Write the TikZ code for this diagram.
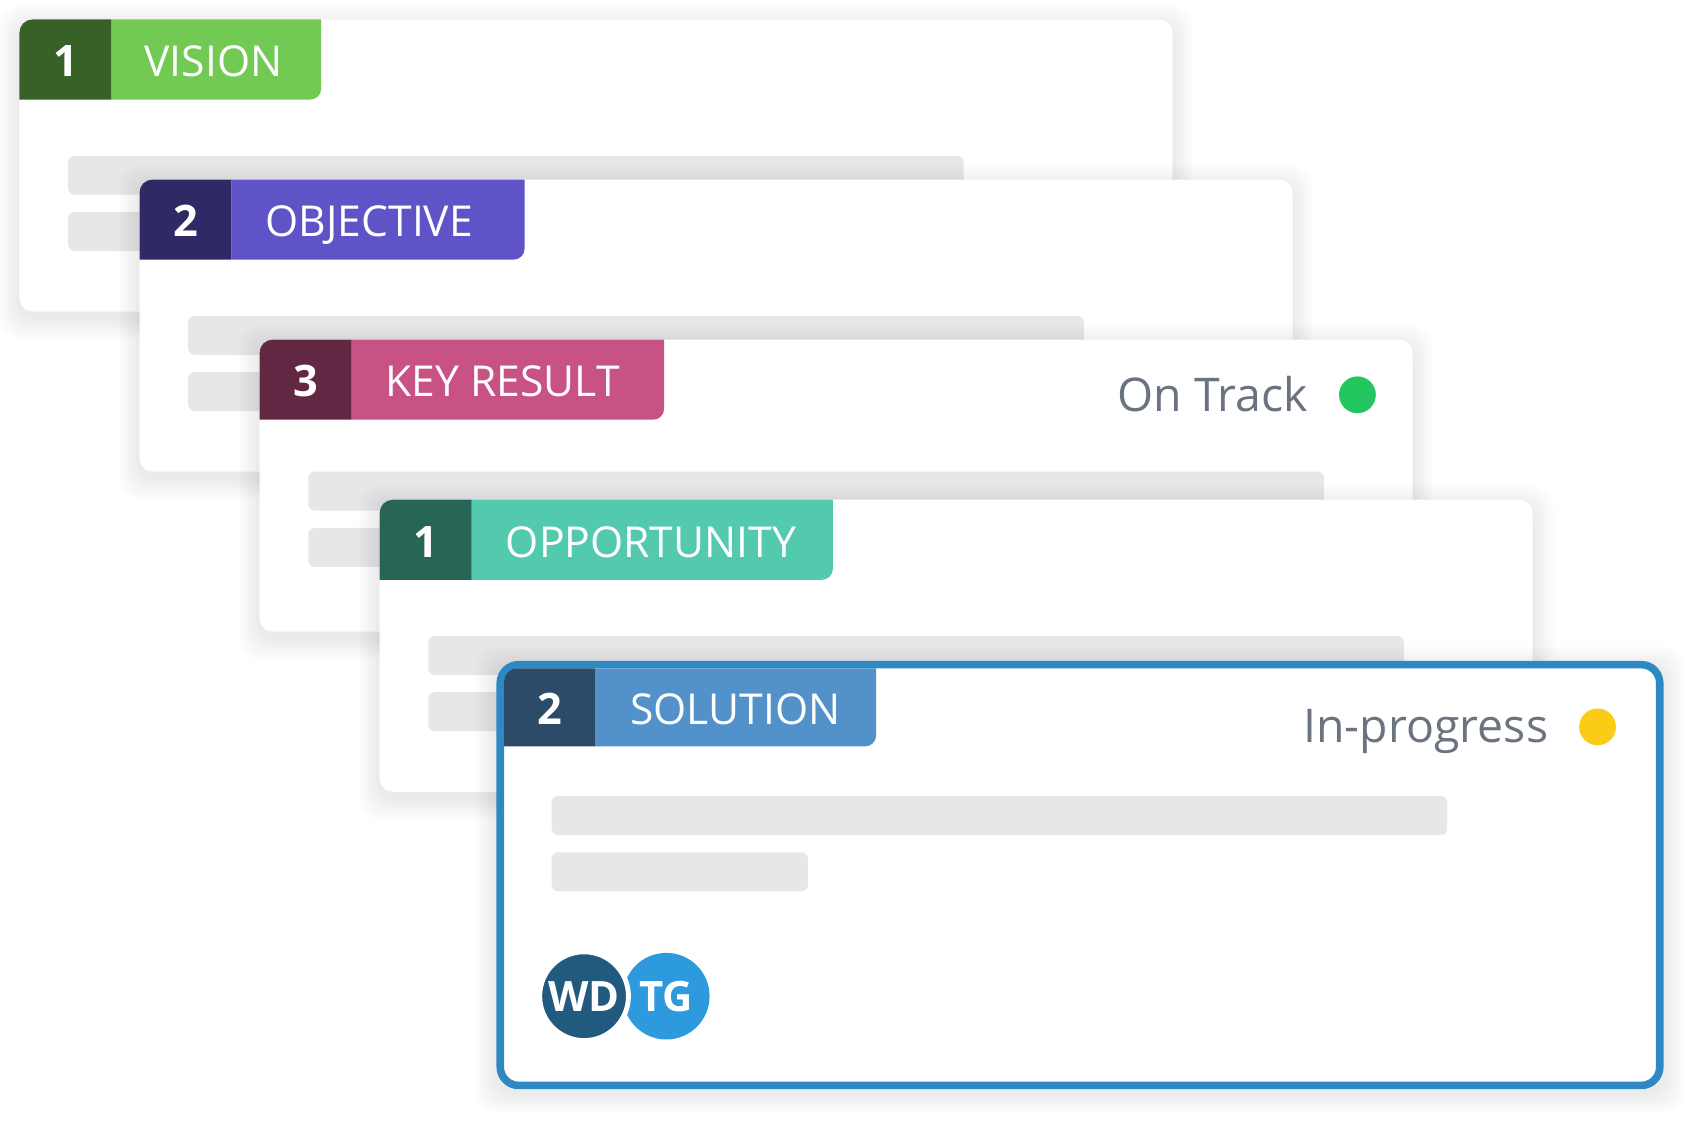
\documentclass[tikz,border=0pt]{standalone}
\usepackage{fontspec}
\setmainfont{Open Sans}

\definecolor{visiondark}{HTML}{386128}
\definecolor{visionlight}{HTML}{72C954}
\definecolor{objdark}{HTML}{2F2965}
\definecolor{objlight}{HTML}{5E54C7}
\definecolor{krdark}{HTML}{622843}
\definecolor{krlight}{HTML}{C75283}
\definecolor{oppdark}{HTML}{276657}
\definecolor{opplight}{HTML}{53C9AE}
\definecolor{soldark}{HTML}{2B4B68}
\definecolor{sollight}{HTML}{5291C9}
\definecolor{solborder}{HTML}{2D88C4}
\definecolor{barfill}{HTML}{E7E7EA}
\definecolor{statusgray}{HTML}{6B7280}
\definecolor{ontrack}{HTML}{22C55E}
\definecolor{inprogress}{HTML}{FACC15}
\definecolor{wdblue}{HTML}{215A7E}
\definecolor{tgblue}{HTML}{2D9ADD}

\tikzset{
  card/.style={fill=white, rounded corners=0.12cm},
  cardshade/.style={fill=black, opacity=0.006, rounded corners=0.2cm},
  bar/.style={fill=barfill, rounded corners=0.06cm},
  tagnum/.style={font=\bfseries\fontsize{11.4}{14}\selectfont, text=white, anchor=base, inner sep=0pt},
  taglabel/.style={font=\fontsize{11.2}{14}\selectfont, text=white, anchor=base west, inner sep=0pt},
  status/.style={font=\fontsize{12.2}{15}\selectfont, text=statusgray, anchor=base east, inner sep=0pt},
  avatar/.style={circle, inner sep=0pt, text=white, font=\bfseries\fontsize{11}{13}\selectfont}
}

\begin{document}
\begin{tikzpicture}[x=0.01cm,y=-0.01cm]
\useasboundingbox[fill=white] (0,0) rectangle (1568,1036);

% card 1: vision
\foreach \s in {2,4,...,20} \fill[cardshade] (18-\s,24-\s) rectangle (1084+\s,294+\s);
\fill[card] (18,18) rectangle (1084,288);
\fill[bar] (63,144) rectangle (891,180);
\fill[bar] (63,196) rectangle (300,232);
\fill[visionlight] (103,18) -- (297,18) -- (297,82) arc[start angle=0, end angle=90, radius=10] -- (103,92) -- cycle;
\fill[visiondark] (103,18) -- (30,18) arc[start angle=-90, end angle=-180, radius=12] -- (18,92) -- (103,92) -- cycle;
\node[tagnum] (num1) at (60.5,71) {1};
\node[taglabel] (vision) at (133,71) {VISION};

% card 2: objective
\foreach \s in {2,4,...,20} \fill[cardshade] (129-\s,172-\s) rectangle (1195+\s,442+\s);
\fill[card] (129,166) rectangle (1195,436);
\fill[bar] (174,292) rectangle (1002,328);
\fill[bar] (174,344) rectangle (411,380);
\fill[objlight] (214,166) -- (485,166) -- (485,230) arc[start angle=0, end angle=90, radius=10] -- (214,240) -- cycle;
\fill[objdark] (214,166) -- (141,166) arc[start angle=-90, end angle=-180, radius=12] -- (129,240) -- (214,240) -- cycle;
\node[tagnum] (num2) at (171.5,219) {2};
\node[taglabel] (objective) at (245,219) {OBJECTIVE};

% card 3: key result
\foreach \s in {2,4,...,20} \fill[cardshade] (240-\s,320-\s) rectangle (1306+\s,590+\s);
\fill[card] (240,314) rectangle (1306,584);
\fill[bar] (285,436) rectangle (1224,472);
\fill[bar] (285,488) rectangle (522,524);
\fill[krlight] (325,314) -- (614,314) -- (614,378) arc[start angle=0, end angle=90, radius=10] -- (325,388) -- cycle;
\fill[krdark] (325,314) -- (252,314) arc[start angle=-90, end angle=-180, radius=12] -- (240,388) -- (325,388) -- cycle;
\node[tagnum] (num3) at (282.5,367) {3};
\node[taglabel] (keyresult) at (356,367) {KEY RESULT};
\node[status] (ontracktext) at (1210,380) {On Track};
\fill[ontrack] (1255,365) circle[radius=17];

% card 4: opportunity
\foreach \s in {2,4,...,20} \fill[cardshade] (351-\s,468-\s) rectangle (1417+\s,738+\s);
\fill[card] (351,462) rectangle (1417,732);
\fill[bar] (396,588) rectangle (1298,624);
\fill[bar] (396,640) rectangle (633,676);
\fill[opplight] (436,462) -- (770,462) -- (770,526) arc[start angle=0, end angle=90, radius=10] -- (436,536) -- cycle;
\fill[oppdark] (436,462) -- (363,462) arc[start angle=-90, end angle=-180, radius=12] -- (351,536) -- (436,536) -- cycle;
\node[tagnum] (num4) at (393.5,515) {1};
\node[taglabel] (opportunity) at (467,515) {OPPORTUNITY};

% card 5: solution (selected)
\foreach \s in {2,4,...,20} \fill[cardshade] (459-\s,617-\s) rectangle (1538+\s,1010+\s);
\draw[solborder, fill=white, line width=0.07cm, rounded corners=0.17cm] (462.5,614.5) rectangle (1534.5,1003.5);
\fill[bar] (510,736) rectangle (1338,772);
\fill[bar] (510,788) rectangle (747,824);
\fill[sollight] (550,618) -- (810,618) -- (810,680) arc[start angle=0, end angle=90, radius=10] -- (550,690) -- cycle;
\fill[soldark] (550,618) -- (478,618) arc[start angle=-90, end angle=-180, radius=12] -- (466,690) -- (550,690) -- cycle;
\node[tagnum] (num5) at (508,670) {2};
\node[taglabel] (solution) at (582,670) {SOLUTION};
\node[status] (inprogresstext) at (1432,686) {In-progress};
\fill[inprogress] (1477,672) circle[radius=17];

% avatars
\node[avatar, fill=tgblue, minimum size=0.8cm] (tg) at (616,921) {TG};
\node[avatar, fill=wdblue, draw=white, line width=0.045cm, minimum size=0.82cm] (wd) at (540,921) {WD};

\end{tikzpicture}
\end{document}
